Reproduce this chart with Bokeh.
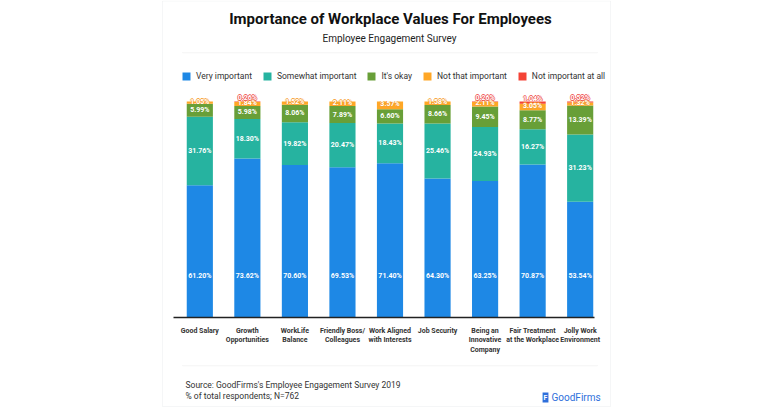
from bokeh.plotting import figure
from bokeh.models import (ColumnDataSource, Label, Legend, LegendItem,
                          BoxAnnotation, FactorRange, Range1d)
from bokeh.core.properties import value
from bokeh.embed import file_html
from bokeh.resources import INLINE

# ---------------- data ----------------
categories = ["Good Salary", "Growth\nOpportunities", "WorkLife\nBalance",
              "Friendly Boss/\nColleagues", "Work Aligned\nwith Interests",
              "Job Security", "Being an\nInnovative\nCompany",
              "Fair Treatment\nat the Workplace", "Jolly Work\nEnvironment"]
very_important = [61.20, 73.62, 70.60, 69.53, 71.40, 64.30, 63.25, 70.87, 53.54]
somewhat_important = [31.76, 18.30, 19.82, 20.47, 18.43, 25.46, 24.93, 16.27, 31.23]
its_okay = [5.99, 5.98, 8.06, 7.89, 6.60, 8.66, 9.45, 8.77, 13.39]
not_that_important = [1.05, 1.84, 1.52, 2.11, 3.57, 1.58, 2.11, 3.05, 1.32]
not_important_at_all = [0.00, 0.26, 0.00, 0.00, 0.00, 0.00, 0.26, 1.04, 0.52]
series_names = ["Very important", "Somewhat important", "It's okay",
                "Not that important", "Not important at all"]
colors = ["#1E88E5", "#26B3A0", "#689F38", "#FFA726", "#F44336"]

keys = ["v", "s", "o", "n", "a"]
series = [very_important, somewhat_important, its_okay,
          not_that_important, not_important_at_all]
src = ColumnDataSource(dict(cat=categories, **{k: s for k, s in zip(keys, series)}))

FONT = "Roboto"
W, H = 779, 408
# plot area in pixels: value 0 at y=317, value 100 at y=101; x from 176 to 605
PX_PER_PCT = (317 - 101) / 100.0
y0 = -(H - 317) / PX_PER_PCT
y1 = 100 + 101 / PX_PER_PCT
PX_PER_CAT = (605 - 176) / len(categories)
pad = 176 / PX_PER_CAT

p = figure(width=W, height=H,
           x_range=FactorRange(*categories, range_padding=pad,
                               range_padding_units="absolute"),
           y_range=Range1d(y0, y1), output_backend="svg",
           toolbar_location=None, title=None, y_axis_location=None,
           min_border=0)
p.outline_line_color = None
p.xgrid.visible = False
p.ygrid.visible = False
p.background_fill_color = "white"
p.border_fill_color = "white"

rs = p.vbar_stack(keys, x="cat", width=0.55, color=colors, source=src,
                  line_width=0)

# value labels inside segments
outline = {3: "#F7A030", 4: "#EF5350"}
yoffs = {3: -1, 4: -4}
bottom = [0.0] * len(categories)
for i, (k, s) in enumerate(zip(keys, series)):
    xs, ys, ts = [], [], []
    for j, v in enumerate(s):
        if v > 0:
            xs.append(categories[j])
            ys.append(19 if i == 0 else bottom[j] + v / 2)
            ts.append(f"{v:.2f}%")
        bottom[j] += v
    yoff = yoffs.get(i, 0)
    if i in outline:
        for dx, dy in [(-0.8, 0), (0.8, 0), (0, -0.8), (0, 0.8)]:
            p.text(x=xs, y=ys, text=ts, text_color=outline[i],
                   text_align="center", text_baseline="middle",
                   text_font=value(FONT), text_font_size="7px",
                   text_font_style="bold", x_offset=dx, y_offset=yoff + dy)
    p.text(x=xs, y=ys, text=ts, text_color="white", text_align="center",
           text_baseline="middle", text_font=value(FONT),
           text_font_size="7px", text_font_style="bold", y_offset=yoff)

# axis drawn at value 0
ax = p.xaxis[0]
ax.fixed_location = 0
ax.bounds = (-0.05, 8.8)
ax.axis_line_color = "#222222"
ax.axis_line_width = 1.5
ax.major_tick_line_color = None
ax.minor_tick_line_color = None
ax.major_label_text_font = FONT
ax.major_label_text_font_size = "7px"
ax.major_label_text_font_style = "bold"
ax.major_label_text_color = "#333333"
ax.major_label_standoff = 3

# legend
items = [LegendItem(label=n, renderers=[r]) for n, r in zip(series_names, rs)]
legend = Legend(items=items, orientation="horizontal", location=(181, H - 81),
                glyph_width=10, glyph_height=10, label_height=10,
                label_standoff=5, spacing=10, padding=0, margin=0,
                border_line_color=None, background_fill_alpha=0,
                label_text_font=FONT, label_text_font_size="8.5px",
                label_text_color="#333333")
p.add_layout(legend)


def lab(x, y, text, **kw):
    kw.setdefault("text_font", FONT)
    kw.setdefault("text_color", "#333333")
    kw.setdefault("text_baseline", "middle")
    p.add_layout(Label(x=x, y=H - y, x_units="screen", y_units="screen",
                       text=text, **kw))


lab(390, 18, "Importance of Workplace Values For Employees",
    text_font_size="15px", text_font_style="bold", text_color="#111111",
    text_align="center")
lab(389, 38, "Employee Engagement Survey", text_font_size="10px",
    text_color="#222222", text_align="center")
lab(185, 384, "Source: GoodFirms's Employee Engagement Survey 2019",
    text_font_size="8.5px")
lab(185, 395, "% of total respondents; N=762", text_font_size="8.5px")
lab(545, 397, "F", text_font_size="7px", text_font_style="bold",
    text_color="white", background_fill_color="#2E6FDB", padding=1,
    text_align="center")
lab(551, 397, "GoodFirms", text_font_size="10px", text_color="#2E6FDB")


def box(left, right, top, bottom, color):
    p.add_layout(BoxAnnotation(left=left, right=right, top=H - top,
                               bottom=H - bottom, left_units="screen",
                               right_units="screen", top_units="screen",
                               bottom_units="screen", fill_alpha=0,
                               line_color=color, line_width=1))


box(182, 597, 52, 52.5, "#ECECEC")
box(182, 597, 365, 365.5, "#ECECEC")
box(162, 610, 0.5, 406, "#DDE1E6")

open("out.html", "w").write(file_html(p, INLINE))
